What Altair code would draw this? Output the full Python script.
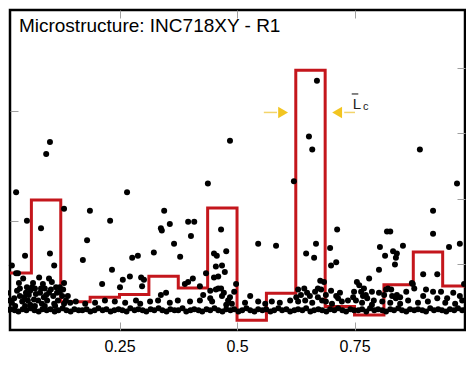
import altair as alt
import pandas as pd

# ---------------- data ----------------
title_text = "Microstructure: INC718XY - R1"

bin_edges = [0.0, 0.0625, 0.125, 0.1875, 0.25, 0.3125, 0.375, 0.4375, 0.5,
             0.5625, 0.625, 0.6875, 0.75, 0.8125, 0.875, 0.9375, 1.0]
step_vals = [0.87, 1.98, 0.43, 0.50, 0.54, 0.82, 0.64, 1.86,
             0.15, 0.56, 3.96, 0.36, 0.23, 0.69, 1.19, 0.67]

high_x = [0.102, 0.094, 0.485, 0.438, 0.670, 0.653, 0.660, 0.889, 0.621, 0.968,
          0.030, 0.266, 0.132, 0.187, 0.345, 0.917, 0.053, 0.230, 0.083, 0.338,
          0.340, 0.357, 0.396, 0.409, 0.402, 0.466, 0.713, 0.819, 0.826, 0.917,
          0.181, 0.006, 0.366, 0.323, 0.379, 0.277, 0.289, 0.451, 0.457, 0.477,
          0.545, 0.583, 0.647, 0.664, 0.668, 0.698, 0.711, 0.700, 0.804, 0.815,
          0.832, 0.840, 0.838, 0.836, 0.853, 0.951, 0.974, 0.996, 0.049, 0.102,
          0.172, 0.111, 0.021, 0.030, 0.034, 0.234, 0.455, 0.468, 0.802, 0.896,
          0.926, 0.434, 0.451, 0.460, 0.474]
high_y = [1.72, 1.61, 1.73, 1.34, 2.28, 1.77, 1.65, 1.65, 1.36, 1.34,
          1.26, 1.26, 1.11, 1.09, 1.09, 1.09, 1.00, 1.00, 0.93, 0.93,
          0.91, 0.97, 0.99, 0.99, 0.86, 0.92, 0.92, 0.90, 0.90, 0.88,
          0.82, 0.76, 0.79, 0.71, 0.67, 0.66, 0.68, 0.70, 0.68, 0.72,
          0.79, 0.77, 0.70, 0.66, 0.79, 0.75, 0.62, 0.59, 0.76, 0.68,
          0.72, 0.70, 0.66, 0.60, 0.77, 0.76, 0.79, 0.68, 0.68, 0.70,
          0.64, 0.59, 0.59, 0.52, 0.52, 0.55, 0.58, 0.59, 0.55, 0.51,
          0.51, 0.52, 0.48, 0.49, 0.53]

mid_x = [0.272, 0.257, 0.296, 0.302, 0.213, 0.132, 0.045, 0.036, 0.079, 0.100,
         0.106, 0.115, 0.066, 0.064, 0.053, 0.070, 0.000, 0.004, 0.011, 0.083,
         0.100, 0.251, 0.298, 0.389, 0.396, 0.406, 0.421, 0.338, 0.349, 0.460,
         0.466, 0.455, 0.498, 0.528, 0.677, 0.685, 0.672, 0.679, 0.649, 0.636,
         0.626, 0.711, 0.715, 0.747, 0.749, 0.781, 0.755, 0.760, 0.983, 0.874,
         0.877, 0.821, 0.817, 0.917, 0.960, 0.896, 0.926, 0.770, 0.764, 0.774,
         0.777, 0.830, 0.838, 0.840, 0.791, 0.802, 0.285, 0.872]
mid_y = [0.49, 0.46, 0.48, 0.46, 0.42, 0.43, 0.47, 0.43, 0.48, 0.47,
         0.44, 0.39, 0.43, 0.39, 0.39, 0.38, 0.35, 0.32, 0.34, 0.38,
         0.34, 0.39, 0.40, 0.42, 0.44, 0.47, 0.40, 0.32, 0.34, 0.38,
         0.38, 0.37, 0.42, 0.31, 0.45, 0.44, 0.38, 0.37, 0.34, 0.32,
         0.30, 0.31, 0.29, 0.30, 0.35, 0.47, 0.44, 0.41, 0.42, 0.42,
         0.38, 0.38, 0.37, 0.35, 0.34, 0.31, 0.29, 0.38, 0.35, 0.32,
         0.29, 0.31, 0.29, 0.32, 0.27, 0.34, 0.27, 0.43]

low_x = [0.026, 0.038, 0.051, 0.060, 0.072, 0.089, 0.096, 0.109, 0.119, 0.128,
         0.123, 0.091, 0.077, 0.055, 0.043, 0.021, 0.060, 0.085, 0.111, 0.132,
         0.145, 0.140, 0.157, 0.177, 0.198, 0.219, 0.240,
         0.262, 0.294, 0.315, 0.332, 0.357, 0.374, 0.400, 0.421, 0.443, 0.468,
         0.481, 0.489, 0.517, 0.545, 0.560, 0.574, 0.591, 0.613, 0.630, 0.645,
         0.660, 0.672, 0.689, 0.702, 0.723, 0.736, 0.766, 0.787, 0.809, 0.826,
         0.847, 0.864, 0.885, 0.906, 0.943, 0.964, 0.979, 0.991]
low_y = [0.29, 0.31, 0.34, 0.36, 0.33, 0.30, 0.27, 0.31, 0.27, 0.31,
         0.35, 0.38, 0.27, 0.27, 0.26, 0.25, 0.23, 0.24, 0.24, 0.24,
         0.25, 0.31, 0.26, 0.24, 0.25, 0.27, 0.26,
         0.25, 0.24, 0.26, 0.27, 0.25, 0.27, 0.26, 0.27, 0.29, 0.31,
         0.27, 0.24, 0.25, 0.26, 0.24, 0.26, 0.25, 0.27, 0.26, 0.27,
         0.25, 0.30, 0.26, 0.24, 0.26, 0.27, 0.25, 0.23, 0.26, 0.25,
         0.24, 0.27, 0.25, 0.26, 0.25, 0.24, 0.27, 0.25]

cluster_x = [0.017, 0.032, 0.047, 0.057, 0.068, 0.081, 0.094, 0.104, 0.117, 0.130,
             0.136, 0.028, 0.049, 0.070, 0.091, 0.113, 0.038, 0.087, 0.123,
             0.428, 0.443, 0.472, 0.485, 0.494, 0.447, 0.477,
             0.630, 0.643, 0.655, 0.666, 0.689, 0.700, 0.719, 0.681,
             0.753, 0.768, 0.787, 0.813, 0.828, 0.847, 0.860,
             0.902, 0.934, 0.947, 0.974, 0.991]
cluster_y = [0.27, 0.36, 0.30, 0.32, 0.28, 0.34, 0.32, 0.37, 0.34, 0.37,
             0.27, 0.22, 0.22, 0.22, 0.22, 0.22, 0.38, 0.42, 0.39,
             0.32, 0.36, 0.34, 0.30, 0.35, 0.26, 0.23,
             0.37, 0.38, 0.31, 0.35, 0.32, 0.36, 0.34, 0.27,
             0.27, 0.31, 0.35, 0.32, 0.37, 0.30, 0.35,
             0.37, 0.35, 0.29, 0.31, 0.36]

band_x = [0.010, 0.018, 0.027, 0.035, 0.044, 0.052, 0.061, 0.069, 0.078, 0.086,
          0.095, 0.103, 0.112, 0.120, 0.129, 0.137, 0.146, 0.154, 0.163, 0.171,
          0.180, 0.188, 0.197, 0.205, 0.214, 0.222, 0.231, 0.239, 0.248, 0.256,
          0.265, 0.273, 0.282, 0.290, 0.299, 0.307, 0.316, 0.324, 0.333, 0.341,
          0.350, 0.358, 0.367, 0.375, 0.384, 0.392, 0.401, 0.409, 0.418, 0.426,
          0.435, 0.443, 0.452, 0.460, 0.469, 0.477, 0.486, 0.494, 0.503, 0.511,
          0.520, 0.528, 0.537, 0.545, 0.554, 0.562, 0.571, 0.579, 0.588, 0.596,
          0.605, 0.613, 0.622, 0.630, 0.639, 0.647, 0.656, 0.664, 0.673, 0.681,
          0.690, 0.698, 0.707, 0.715, 0.724, 0.732, 0.741, 0.749, 0.758, 0.766,
          0.775, 0.783, 0.792, 0.800, 0.809, 0.817, 0.826, 0.834, 0.843, 0.851,
          0.860, 0.868, 0.877, 0.885, 0.894, 0.902, 0.911, 0.919, 0.928, 0.936,
          0.945, 0.953, 0.962, 0.970, 0.979, 0.987, 0.996]
band_y = [0.18, 0.19, 0.18, 0.17, 0.19, 0.18, 0.20, 0.18, 0.17, 0.19,
          0.18, 0.19, 0.17, 0.18, 0.20, 0.18, 0.17, 0.19, 0.18, 0.18,
          0.19, 0.17, 0.18, 0.20, 0.18, 0.19, 0.17, 0.18, 0.19, 0.18,
          0.17, 0.20, 0.18, 0.19, 0.18, 0.17, 0.19, 0.18, 0.20, 0.18,
          0.17, 0.19, 0.18, 0.18, 0.20, 0.17, 0.18, 0.19, 0.18, 0.17,
          0.19, 0.18, 0.20, 0.18, 0.17, 0.19, 0.18, 0.19, 0.17, 0.18,
          0.20, 0.18, 0.17, 0.19, 0.18, 0.19, 0.17, 0.18, 0.20, 0.18,
          0.19, 0.17, 0.18, 0.19, 0.18, 0.20, 0.17, 0.18, 0.19, 0.18,
          0.17, 0.19, 0.18, 0.20, 0.18, 0.17, 0.19, 0.18, 0.18, 0.19,
          0.17, 0.20, 0.18, 0.19, 0.18, 0.17, 0.19, 0.18, 0.20, 0.18,
          0.17, 0.19, 0.18, 0.19, 0.18, 0.17, 0.20, 0.18, 0.19, 0.18,
          0.17, 0.19, 0.18, 0.20, 0.18, 0.19, 0.18]

x_tick_vals = [0.25, 0.5, 0.75]
left_tick_vals = [1, 2]
right_tick_vals = [1, 2, 3, 4]

# annotation anchors (data units)
arrow_shaft_x = [0.557, 0.728]
arrow_shaft_x2 = [0.585, 0.751]
arrow_head_x = [0.598, 0.713]
arrow_head_shape = ["triangle-right", "triangle-left"]
arrow_y = 1.99

# ---------------- chart ----------------
FONT = "Liberation Sans"
RED = "#c4161c"
TICK = "#a0a0a0"
W, H = 455, 320

xs = alt.Scale(domain=[0.017, 0.985], nice=False, zero=False)
yls = alt.Scale(domain=[0, 2.927], nice=False, zero=False)
yrs = alt.Scale(domain=[0, 4.878], nice=False, zero=False)

tick_only = dict(labels=False, domain=False, grid=False, title=None,
                 tickSize=8, offset=-8, tickColor=TICK, tickWidth=1)

step_df = pd.DataFrame({"x": bin_edges, "v": step_vals + [step_vals[-1]]})
red = alt.Chart(step_df).mark_line(
    interpolate="step-after", color=RED, strokeWidth=3, clip=True
).encode(
    x=alt.X("x:Q", scale=xs, axis=alt.Axis(orient="top", values=x_tick_vals, **tick_only)),
    y=alt.Y("v:Q", scale=yrs, axis=alt.Axis(orient="right", values=right_tick_vals, **tick_only)),
)

pts_df = pd.DataFrame({
    "x": high_x + mid_x + low_x + cluster_x + band_x,
    "y": high_y + mid_y + low_y + cluster_y + band_y,
})
pts = alt.Chart(pts_df).mark_circle(size=36, color="black", opacity=1).encode(
    x=alt.X("x:Q", scale=xs, axis=alt.Axis(
        orient="bottom", values=x_tick_vals, labelExpr="format(datum.value, '.2~f')",
        labelFlush=False, labelFont=FONT, labelFontSize=16, labelColor="black",
        labelPadding=8, domain=False, grid=False, title=None, tickSize=8, offset=-8,
        tickColor=TICK, tickWidth=1)),
    y=alt.Y("y:Q", scale=yls, axis=alt.Axis(orient="left", values=left_tick_vals, **tick_only)),
)

shaft_df = pd.DataFrame({"x": arrow_shaft_x, "x2": arrow_shaft_x2, "y": [arrow_y] * 2})
shafts = alt.Chart(shaft_df).mark_rule(color="#f3d46a", strokeWidth=1.5).encode(
    x=alt.X("x:Q", scale=xs, axis=None), x2="x2:Q",
    y=alt.Y("y:Q", scale=yls, axis=None),
)
head_df = pd.DataFrame({"x": arrow_head_x, "y": [arrow_y] * 2, "s": arrow_head_shape})
heads = alt.Chart(head_df).mark_point(filled=True, size=130, color="#f2c521", opacity=1).encode(
    x=alt.X("x:Q", scale=xs, axis=None),
    y=alt.Y("y:Q", scale=yls, axis=None),
    shape=alt.Shape("s:N", scale=None),
)

title_df = pd.DataFrame({"x": [0.036], "y": [2.728], "t": [title_text]})
title = alt.Chart(title_df).mark_text(
    align="left", baseline="alphabetic", font=FONT, fontSize=19, color="black"
).encode(
    x=alt.X("x:Q", scale=xs, axis=None), y=alt.Y("y:Q", scale=yls, axis=None), text="t:N"
)

lc_df = pd.DataFrame({"x": [0.746, 0.768], "y": [2.021, 2.008], "t": ["L", "c"], "fs": [15, 11]})
lc = alt.Chart(lc_df).mark_text(align="left", baseline="alphabetic", font=FONT, color="#222222").encode(
    x=alt.X("x:Q", scale=xs, axis=None), y=alt.Y("y:Q", scale=yls, axis=None), text="t:N",
    size=alt.Size("fs:Q", scale=None),
)
bar_df = pd.DataFrame({"x": [0.744], "x2": [0.758], "y": [2.159]})
bar = alt.Chart(bar_df).mark_rule(color="#333333", strokeWidth=1.2).encode(
    x=alt.X("x:Q", scale=xs, axis=None), x2="x2:Q", y=alt.Y("y:Q", scale=yls, axis=None),
)

chart = alt.layer(red, pts, shafts, heads, title, lc, bar).resolve_scale(
    x="independent", y="independent"
).resolve_axis(
    x="independent", y="independent"
).properties(
    width=W, height=H,
    autosize=alt.AutoSizeParams(type="none"),
    padding={"left": 2, "top": 2, "right": 1, "bottom": 23},
    background="white",
).configure_view(stroke="black", strokeWidth=2.5)

chart.save("out.html", embed_options={"renderer": "svg", "actions": False})
